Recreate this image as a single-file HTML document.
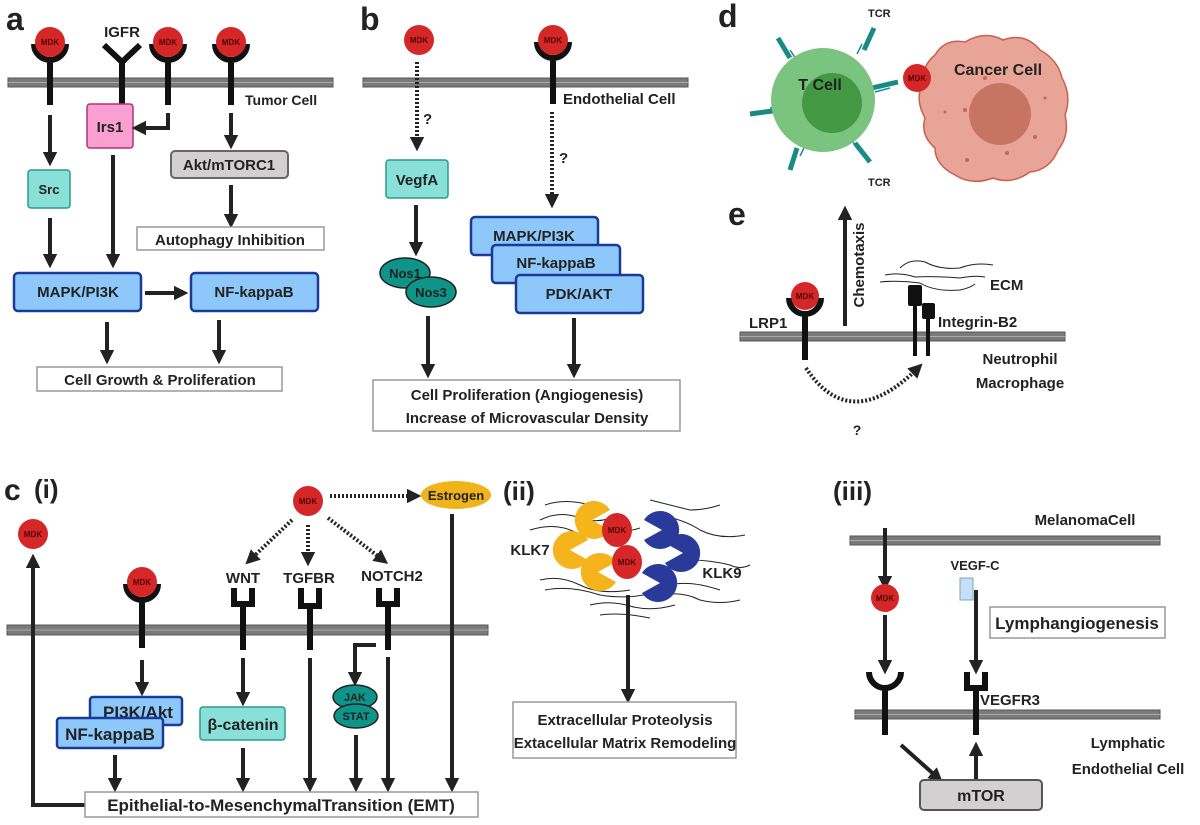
<!DOCTYPE html>
<html><head><meta charset="utf-8"><style>body{margin:0;background:#fff}svg{display:block}text{font-family:"Liberation Sans",sans-serif;font-weight:bold;fill:#222}</style></head><body>
<svg width="1200" height="825" viewBox="0 0 1200 825" xmlns="http://www.w3.org/2000/svg">
<defs>
<marker id="ah" markerWidth="3.6" markerHeight="3.6" refX="2" refY="1.8" orient="auto" markerUnits="strokeWidth"><path d="M0,0 L3.6,1.8 L0,3.6z" fill="#222"/></marker>
</defs>
<style>
.a{stroke:#222;stroke-width:4;fill:none;marker-end:url(#ah)}
.d{stroke:#222;stroke-width:4;fill:none;stroke-dasharray:2 2;marker-end:url(#ah)}
.s{stroke:#111;stroke-width:6;fill:none}
.m{fill:#d62728}
.mt{font-size:8px;fill:#500}
.bl{fill:#8ec8fa;stroke:#1a3a9a;stroke-width:2.5}
.bx{fill:#fff;stroke:#999;stroke-width:1.5}
.l{font-size:15px}
.w{stroke:#222;stroke-width:1;fill:none}
</style>
<!-- membranes -->
<g fill="#7a7a7a" stroke="#555" stroke-width="1"><rect x="8" y="78" width="325" height="9"/><rect x="363" y="78" width="325" height="9"/><rect x="740" y="332" width="325" height="9"/><rect x="7" y="625" width="481" height="10"/><rect x="850" y="536" width="310" height="9"/><rect x="855" y="710" width="305" height="9"/></g>
<g stroke="#aaa" stroke-width="1"><line x1="8" y1="82.5" x2="333" y2="82.5"/><line x1="363" y1="82.5" x2="688" y2="82.5"/><line x1="740" y1="336.5" x2="1065" y2="336.5"/><line x1="7" y1="630" x2="488" y2="630"/><line x1="850" y1="540.5" x2="1160" y2="540.5"/><line x1="855" y1="714.5" x2="1160" y2="714.5"/></g>

<!-- Panel a -->
<text x="6" y="30" font-size="32">a</text>
<g>
<path class="s" d="M34,44 A16 16 0 0 0 66,44 M50,60 V105 M152,44 A16 16 0 0 0 184,44 M168,60 V105 M215,44 A16 16 0 0 0 247,44 M231,60 V105"/>
<circle class="m" cx="50" cy="42" r="15"/><circle class="m" cx="168" cy="42" r="15"/><circle class="m" cx="231" cy="42" r="15"/>
<text class="mt" x="50" y="45" text-anchor="middle">MDK</text><text class="mt" x="168" y="45" text-anchor="middle">MDK</text><text class="mt" x="231" y="45" text-anchor="middle">MDK</text>
<path class="s" d="M104,45 L122,62 L140,45 M122,62 V105"/>
<text x="122" y="37" font-size="15" text-anchor="middle" font-weight="normal">IGFR</text>
<text x="245" y="105" font-size="14">Tumor Cell</text>
<rect x="87" y="104" width="46" height="44" fill="#f9a0d0" stroke="#b03080" stroke-width="1.5" rx="3"/>
<text x="110" y="132" class="l" text-anchor="middle">Irs1</text>
<path class="a" d="M168,113 V128 H138"/>
<path class="a" d="M50,115 V160"/><path class="a" d="M50,218 V262"/><path class="a" d="M113,155 V262"/><path class="a" d="M231,113 V143"/><path class="a" d="M231,185 V222"/>
<rect x="28" y="170" width="42" height="38" fill="#88e0d8" stroke="#2a9a8a" stroke-width="1.5" rx="3"/>
<text x="49" y="194" font-size="13" text-anchor="middle">Src</text>
<rect x="171" y="151" width="117" height="27" fill="#d2d0d0" stroke="#666" stroke-width="2" rx="4"/>
<text x="229" y="170" class="l" text-anchor="middle">Akt/mTORC1</text>
<rect x="137" y="227" width="187" height="23" class="bx"/>
<text x="230" y="245" class="l" text-anchor="middle">Autophagy Inhibition</text>
<rect x="14" y="273" width="127" height="38" class="bl" rx="4"/><text x="78" y="297" class="l" text-anchor="middle">MAPK/PI3K</text>
<rect x="191" y="273" width="127" height="38" class="bl" rx="4"/><text x="254" y="297" class="l" text-anchor="middle">NF-kappaB</text>
<path class="a" d="M145,293 H182"/>
<path class="a" d="M107,322 V358"/><path class="a" d="M219,320 V358"/>
<rect x="37" y="367" width="245" height="24" class="bx"/>
<text x="160" y="385" class="l" text-anchor="middle">Cell Growth &amp; Proliferation</text>
</g>

<!-- Panel b -->
<text x="360" y="30" font-size="32">b</text>
<circle class="m" cx="419" cy="40" r="15"/><text class="mt" x="419" y="43" text-anchor="middle">MDK</text>
<path class="s" d="M537,42 A16 16 0 0 0 569,42 M553,58 V104"/>
<circle class="m" cx="553" cy="40" r="15"/><text class="mt" x="553" y="43" text-anchor="middle">MDK</text>
<text x="563" y="104" font-size="15">Endothelial Cell</text>
<path class="d" d="M417,62 V145"/><text x="423" y="124" font-size="15" font-weight="normal">?</text>
<path class="d" d="M552,112 V202"/><text x="559" y="163" font-size="15" font-weight="normal">?</text>
<rect x="386" y="160" width="62" height="38" fill="#88e0d8" stroke="#2a9a8a" stroke-width="1.5" rx="3"/><text x="417" y="185" class="l" text-anchor="middle">VegfA</text>
<path class="a" d="M416,205 V250"/>
<ellipse cx="405" cy="273" rx="25" ry="15" fill="#0e9488" stroke="#222" stroke-width="1.5"/><text x="405" y="278" font-size="13" text-anchor="middle">Nos1</text>
<ellipse cx="431" cy="292" rx="25" ry="15" fill="#0e9488" stroke="#222" stroke-width="1.5"/><text x="431" y="297" font-size="13" text-anchor="middle">Nos3</text>
<path class="a" d="M428,316 V372"/>
<rect x="471" y="217" width="127" height="38" class="bl" rx="4"/><text x="534" y="241" class="l" text-anchor="middle">MAPK/PI3K</text>
<rect x="492" y="245" width="128" height="38" class="bl" rx="4"/><text x="556" y="268" class="l" text-anchor="middle">NF-kappaB</text>
<rect x="516" y="275" width="127" height="38" class="bl" rx="4"/><text x="579" y="299" class="l" text-anchor="middle">PDK/AKT</text>
<path class="a" d="M574,318 V372"/>
<rect x="373" y="380" width="307" height="51" class="bx"/>
<text x="527" y="400" class="l" text-anchor="middle">Cell Proliferation (Angiogenesis)</text>
<text x="527" y="423" class="l" text-anchor="middle">Increase of Microvascular Density</text>

<!-- Panel d -->
<text x="718" y="27" font-size="32">d</text>
<g stroke="#1a8a88" stroke-width="5" fill="none">
<path d="M790,58 L778,38 M864,50 L874,28 M780,110 L750,114 M797,148 L790,170 M855,143 L870,162 M872,88 L898,82"/>
</g>
<g stroke="#1a8a88" stroke-width="1.5"><path d="M798,62 L790,50 M857,54 L862,44 M780,106 L770,108 M805,146 L800,156 M852,140 L858,150 M875,92 L890,88"/></g>
<circle cx="823" cy="100" r="52" fill="#7bc47f"/>
<circle cx="832" cy="103" r="30" fill="#439843"/>
<text x="820" y="90" font-size="16" text-anchor="middle">T Cell</text>
<text x="868" y="17" font-size="11">TCR</text><text x="868" y="186" font-size="11">TCR</text>
<path d="M935,55 Q945,38 965,42 Q985,30 1003,40 Q1025,32 1040,50 Q1058,60 1062,78 Q1072,96 1065,115 Q1070,135 1058,150 Q1050,170 1030,172 Q1012,185 993,178 Q972,186 955,175 Q935,165 935,148 Q920,135 925,118 Q915,100 922,85 Q922,65 935,55Z" fill="#e8a496" stroke="#c86050" stroke-width="1.5"/>
<circle cx="1000" cy="114" r="31" fill="#c87464"/>
<g fill="#c86858"><circle cx="985" cy="78" r="2"/><circle cx="965" cy="110" r="2"/><circle cx="1035" cy="137" r="2"/><circle cx="1007" cy="153" r="2"/><circle cx="967" cy="160" r="2"/><circle cx="1045" cy="98" r="1.5"/><circle cx="945" cy="112" r="1.5"/></g>
<text x="998" y="75" font-size="16" text-anchor="middle">Cancer Cell</text>
<circle class="m" cx="917" cy="78" r="14"/><text class="mt" x="917" y="81" text-anchor="middle">MDK</text>

<!-- Panel e -->
<text x="728" y="225" font-size="32">e</text>
<path class="s" d="M789,298 A16 16 0 0 0 821,298 M805,314 V360"/>
<circle class="m" cx="805" cy="296" r="14"/><text class="mt" x="805" y="299" text-anchor="middle">MDK</text>
<text x="749" y="328" font-size="15">LRP1</text>
<path class="a" d="M845,326 V212"/>
<text transform="translate(864,265) rotate(-90)" font-size="15" text-anchor="middle">Chemotaxis</text>
<path class="w" d="M900,268 Q910,258 925,262 Q940,270 960,268 Q975,262 993,265 M885,275 Q900,272 915,277 Q935,276 960,278 Q975,275 985,277 M880,282 Q900,280 920,283 Q935,292 960,290 Q970,288 975,284"/>
<text x="990" y="290" font-size="15">ECM</text>
<rect x="908" y="285" width="14" height="21" fill="#111" rx="2"/><rect x="922" y="303" width="13" height="16" fill="#111" rx="2"/>
<path stroke="#111" stroke-width="4" d="M915,305 V356 M928,318 V356"/>
<text x="938" y="327" font-size="15">Integrin-B2</text>
<text x="1020" y="364" font-size="15" text-anchor="middle">Neutrophil</text>
<text x="1020" y="388" font-size="15" text-anchor="middle">Macrophage</text>
<path class="d" d="M806,368 Q850,435 918,368"/>
<text x="857" y="435" font-size="14" font-weight="normal" text-anchor="middle">?</text>

<!-- Panel c (i) -->
<text x="4" y="500" font-size="30">c</text><text x="34" y="498" font-size="26">(i)</text>
<circle class="m" cx="33" cy="534" r="15"/><text class="mt" x="33" y="537" text-anchor="middle">MDK</text>
<path class="a" d="M85,805 H33 V560"/>
<circle class="m" cx="308" cy="501" r="15"/><text class="mt" x="308" y="504" text-anchor="middle">MDK</text>
<ellipse cx="456" cy="495" rx="35" ry="14" fill="#f0b418"/><text x="456" y="500" font-size="13" text-anchor="middle">Estrogen</text>
<path class="d" d="M330,496 H415"/>
<path class="d" d="M292,520 L250,560"/><path class="d" d="M308,525 V560"/><path class="d" d="M328,518 L383,560"/>
<text x="243" y="583" class="l" text-anchor="middle" font-weight="normal">WNT</text>
<text x="309" y="583" class="l" text-anchor="middle" font-weight="normal">TGFBR</text>
<text x="392" y="581" class="l" text-anchor="middle" font-weight="normal">NOTCH2</text>
<path class="s" d="M234,588 V604 H252 V588 M243,604 V650 M301,588 V606 H319 V588 M310,606 V650 M379,588 V604 H397 V588 M388,604 V650"/>
<path class="s" d="M126,584 A16 16 0 0 0 158,584 M142,600 V648"/>
<circle class="m" cx="142" cy="582" r="15"/><text class="mt" x="142" y="585" text-anchor="middle">MDK</text>
<path class="a" d="M142,660 V690"/>
<rect x="90" y="697" width="92" height="28" class="bl" rx="3"/><text x="138" y="718" font-size="17" text-anchor="middle">PI3K/Akt</text>
<rect x="57" y="718" width="106" height="30" class="bl" rx="3"/><text x="110" y="740" font-size="17" text-anchor="middle">NF-kappaB</text>
<path class="a" d="M115,755 V786"/>
<path class="a" d="M243,658 V700"/>
<rect x="200" y="707" width="85" height="33" fill="#88e0d8" stroke="#2a9a8a" stroke-width="1.5" rx="3"/><text x="243" y="730" font-size="16" text-anchor="middle">β-catenin</text>
<path class="a" d="M243,748 V786"/>
<path class="a" d="M310,658 V786"/>
<path class="a" d="M376,645 H355 V680"/>
<ellipse cx="355" cy="697" rx="22" ry="12" fill="#0e9488" stroke="#222" stroke-width="1.5"/><text x="355" y="701" font-size="11" text-anchor="middle">JAK</text>
<ellipse cx="356" cy="716" rx="22" ry="12" fill="#0e9488" stroke="#222" stroke-width="1.5"/><text x="356" y="720" font-size="11" text-anchor="middle">STAT</text>
<path class="a" d="M356,735 V786"/>
<path class="a" d="M388,657 V786"/>
<path class="a" d="M452,514 V786"/>
<rect x="85" y="792" width="393" height="25" class="bx"/>
<text x="281" y="811" font-size="17" text-anchor="middle">Epithelial-to-MesenchymalTransition (EMT)</text>

<!-- Panel (ii) -->
<text x="503" y="500" font-size="26">(ii)</text>
<path class="w" d="M540,520 Q560,510 580,518 Q600,525 620,514 M530,530 Q555,522 575,532 Q600,540 640,528 M545,505 Q565,498 590,505 M650,500 Q670,505 690,510 Q705,510 720,505 M660,515 Q685,520 700,530 Q720,540 745,535 M690,560 Q710,560 730,565 Q740,570 750,565 M540,580 Q560,575 580,585 Q600,595 630,590 M545,590 Q570,585 600,595 Q630,600 655,592 M655,596 Q680,590 700,600 Q720,605 740,600 M590,605 Q610,600 630,606 Q650,612 675,605 M600,615 Q620,612 650,618 M670,585 Q690,580 720,590"/>
<g fill="#f5b41b">
<path d="M592,520 L610,510 A19 19 0 1 0 610,530Z"/>
<path d="M570,550 L588,540 A19 19 0 1 0 588,560Z"/>
<path d="M598,572 L616,562 A19 19 0 1 0 616,582Z"/>
</g>
<g fill="#2a3a9a">
<path d="M662,530 L644,520 A19 19 0 1 1 644,540Z"/>
<path d="M683,553 L665,543 A19 19 0 1 1 665,563Z"/>
<path d="M660,583 L642,573 A19 19 0 1 1 642,593Z"/>
</g>
<ellipse class="m" cx="617" cy="530" rx="15" ry="17"/><text class="mt" x="617" y="533" text-anchor="middle">MDK</text>
<ellipse class="m" cx="627" cy="562" rx="15" ry="17"/><text class="mt" x="627" y="565" text-anchor="middle">MDK</text>
<text x="530" y="555" font-size="15" text-anchor="middle">KLK7</text>
<text x="722" y="578" font-size="15" text-anchor="middle">KLK9</text>
<path class="a" d="M628,595 V697"/>
<rect x="513" y="702" width="223" height="56" class="bx"/>
<text x="625" y="725" class="l" text-anchor="middle">Extracellular Proteolysis</text>
<text x="625" y="748" class="l" text-anchor="middle">Extacellular Matrix Remodeling</text>

<!-- Panel (iii) -->
<text x="833" y="500" font-size="26">(iii)</text>
<text x="1085" y="525" font-size="15" text-anchor="middle">MelanomaCell</text>
<path class="a" d="M885,528 V584"/>
<circle class="m" cx="885" cy="598" r="14"/><text class="mt" x="885" y="601" text-anchor="middle">MDK</text>
<path class="a" d="M885,615 V668"/>
<path class="s" d="M869,672 A16 16 0 0 0 901,672 M885,688 V735"/>
<text x="975" y="570" font-size="13" text-anchor="middle">VEGF-C</text>
<rect x="960" y="578" width="13" height="22" fill="#c6def8" stroke="#7aa" stroke-width="1"/>
<path class="a" d="M976,590 V668"/>
<path class="s" d="M967,672 V688 H985 V672 M976,688 V735"/>
<rect x="990" y="607" width="175" height="31" class="bx"/>
<text x="1077" y="629" font-size="17" text-anchor="middle">Lymphangiogenesis</text>
<text x="980" y="705" font-size="15">VEGFR3</text>
<text x="1128" y="748" font-size="15" text-anchor="middle">Lymphatic</text>
<text x="1128" y="774" font-size="15" text-anchor="middle">Endothelial Cell</text>
<path class="a" d="M901,745 L938,778"/>
<path class="a" d="M976,795 V748"/>
<rect x="920" y="780" width="122" height="30" fill="#d2d0d0" stroke="#555" stroke-width="2" rx="4"/>
<text x="981" y="801" font-size="16" text-anchor="middle">mTOR</text>
</svg>
</body></html>
